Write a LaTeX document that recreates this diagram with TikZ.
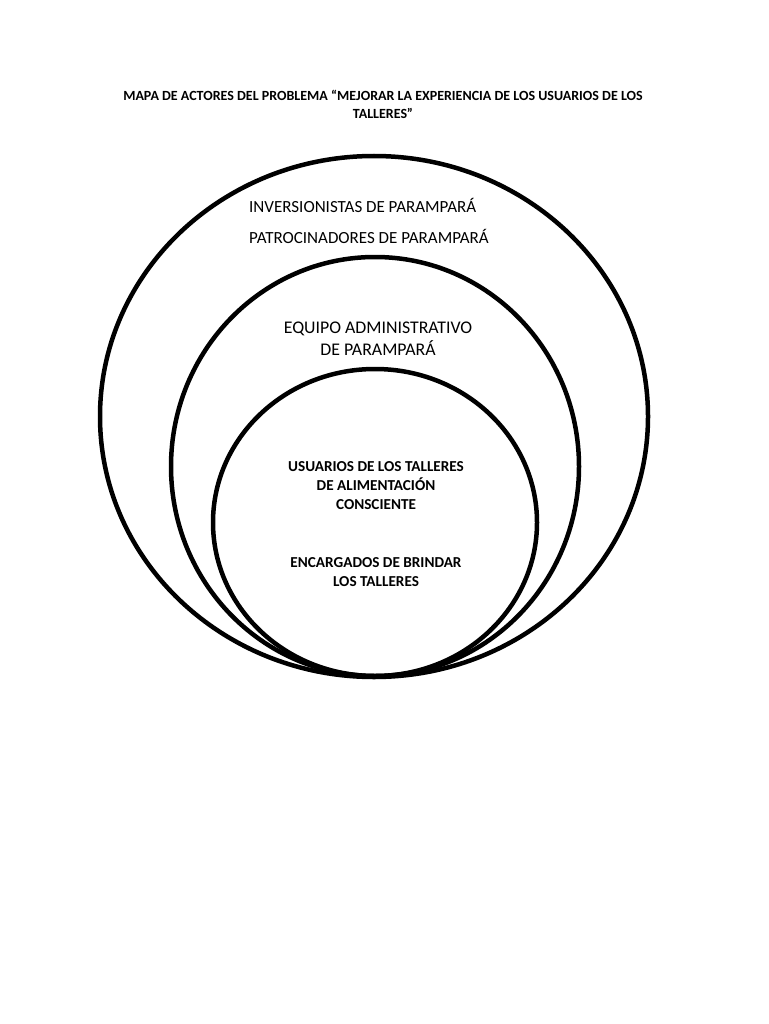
\documentclass[tikz,border=0pt]{standalone}
\usepackage{fontspec}
\setmainfont{Carlito}
\begin{document}
\begin{tikzpicture}[x=1pt,y=-1pt,
  ring/.style={line width=4.5pt, draw=black},
  lbl/.style={align=center, inner sep=0pt, text=black}]
\useasboundingbox[fill=white] (0,0) rectangle (768,1024);
\node[lbl, font=\bfseries\fontsize{14}{18}\selectfont] (title) at (383,104)
  {MAPA DE ACTORES DEL PROBLEMA “MEJORAR LA EXPERIENCIA DE LOS USUARIOS DE LOS\\TALLERES”};
\draw[ring] (374,416.5) ellipse [x radius=274, y radius=260.5];
\draw[ring] (375,466.5) ellipse [x radius=204, y radius=209.5];
\draw[ring] (375,522.5) ellipse [x radius=162, y radius=153.5];
\node[lbl, font=\fontsize{17}{31}\selectfont, anchor=north west] (inv) at (249,198)
  {INVERSIONISTAS DE PARAMPARÁ};
\node[lbl, font=\fontsize{17}{31}\selectfont, anchor=north west] (pat) at (249,229)
  {PATROCINADORES DE PARAMPARÁ};
\node[lbl, font=\fontsize{17.8}{22}\selectfont] (equ) at (378,339)
  {EQUIPO ADMINISTRATIVO\\DE PARAMPARÁ};
\node[lbl, font=\bfseries\fontsize{15.2}{19}\selectfont] (usu) at (376,486)
  {USUARIOS DE LOS TALLERES\\DE ALIMENTACIÓN\\CONSCIENTE};
\node[lbl, font=\bfseries\fontsize{15.2}{19}\selectfont] (enc) at (376,572)
  {ENCARGADOS DE BRINDAR\\LOS TALLERES};
\end{tikzpicture}
\end{document}
